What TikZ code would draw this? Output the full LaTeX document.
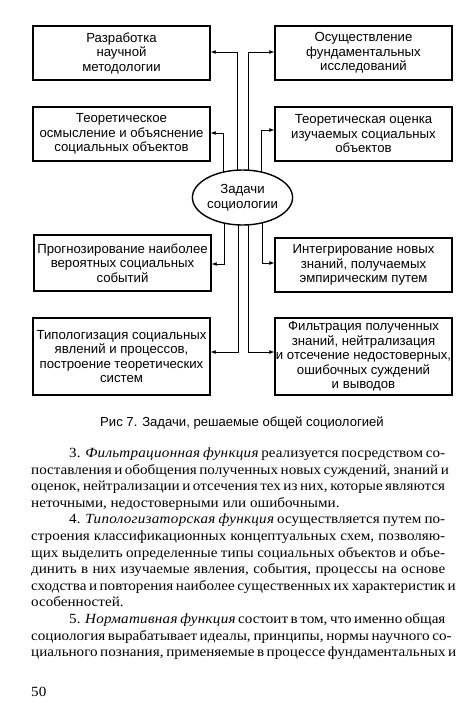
\documentclass[tikz,border=0pt]{standalone}
\usepackage{fontspec}
\setmainfont{Liberation Serif}[FakeStretch=1.08]
\newfontfamily\boxfont{Liberation Sans}
\newfontfamily\wideit{Liberation Serif}[FakeStretch=1.08,LetterSpace=2]
\usetikzlibrary{shapes.geometric,arrows.meta,backgrounds}
\tikzset{
  taskbox/.style={draw, line width=1.4pt, minimum width=177pt, align=center,
    font=\boxfont\fontsize{13.2}{14.5}\selectfont, inner sep=0pt},
  arr/.style={line width=0.7pt, -{Latex[length=5pt,width=4pt]}},
  bodyline/.style={anchor=base west, inner sep=0pt, font=\fontsize{14}{16}\selectfont},
  caption/.style={anchor=base, inner sep=0pt, font=\boxfont\fontsize{13.1}{15}\selectfont},
}
\newcommand{\itw}[1]{{\wideit\itshape #1}}
\begin{document}
\begin{tikzpicture}[x=1pt,y=-1pt]
\useasboundingbox (0,0) rectangle (471,716);
% left boxes
\node[taskbox, minimum height=54pt] (L1) at (121.5,53) {Разработка\\научной\\методологии};
\node[taskbox, minimum height=54pt] (L2) at (121.5,134) {Теоретическое\\осмысление и объяснение\\социальных объектов};
\node[taskbox, minimum height=56pt] (L3) at (122.5,263) {Прогнозирование наиболее\\вероятных социальных\\событий};
\node[taskbox, minimum height=77pt] (L4) at (121.5,356.5) {Типологизация социальных\\явлений и процессов,\\построение теоретических\\систем};
% right boxes
\node[taskbox, minimum height=54pt] (R1) at (363.5,53) {Осуществление\\фундаментальных\\исследований};
\node[taskbox, minimum height=54pt] (R2) at (363.5,134) {Теоретическая оценка\\изучаемых социальных\\объектов};
\node[taskbox, minimum height=54pt] (R3) at (363.5,265) {Интегрирование новых\\знаний, получаемых\\эмпирическим путем};
\node[taskbox, minimum height=77pt] (R4) at (363.5,356.5) {Фильтрация полученных\\знаний, нейтрализация\\и отсечение недостоверных,\\ошибочных суждений\\и выводов};
% centre
\node[ellipse, draw, line width=1.4pt, fill=white, minimum width=99pt, minimum height=55pt, inner sep=0pt,
  align=center, font=\boxfont\fontsize{13.2}{14.5}\selectfont] (E) at (242.5,197.5) {Задачи\\социологии};
\coordinate (xa) at (237,0);
\coordinate (xb) at (248,0);
\coordinate (xc) at (223,0);
\coordinate (xd) at (261,0);
\coordinate (xe) at (224,0);
\coordinate (xf) at (262,0);
\coordinate (xg) at (238,0);
\coordinate (xh) at (248,0);
\begin{scope}[on background layer]
\draw[arr] (E.center -| xa) |- ([yshift=1pt]L1.east);
\draw[arr] (E.center -| xb) |- ([yshift=1pt]R1.west);
\draw[arr] (E.center -| xc) |- ([yshift=1pt]L2.east);
\draw[arr] (E.center -| xd) |- ([yshift=4pt]R2.west);
\draw[arr] (E.center -| xe) |- ([yshift=-1pt]L3.east);
\draw[arr] (E.center -| xf) |- ([yshift=2pt]R3.west);
\draw[arr] (E.center -| xg) |- ([yshift=4.5pt]L4.east);
\draw[arr] (E.center -| xh) |- ([yshift=4.5pt]R4.west);
\end{scope}
% caption
\node[caption] (cap) at (242,426) {Рис 7. Задачи, решаемые общей социологией};
% body text
\node[bodyline] (b1) at (69,457.5) {\makebox[376pt][s]{3. \itw{Фильтрационная функция} реализуется посредством со-}};
\node[bodyline] (b2) at (31,474.1) {\makebox[414pt][s]{поставления и обобщения полученных новых суждений, знаний и}};
\node[bodyline] (b3) at (31,490.7) {\makebox[414pt][s]{оценок, нейтрализации и отсечения тех из них, которые являются}};
\node[bodyline] (b4) at (31,507.3) {неточными, недостоверными или ошибочными.};
\node[bodyline] (b5) at (69,523.9) {\makebox[376pt][s]{4. \itw{Типологизаторская функция} осуществляется путем по-}};
\node[bodyline] (b6) at (31,540.5) {\makebox[414pt][s]{строения классификационных концептуальных схем, позволяю-}};
\node[bodyline] (b7) at (31,557.1) {\makebox[414pt][s]{щих выделить определенные типы социальных объектов и объе-}};
\node[bodyline] (b8) at (31,573.7) {\makebox[414pt][s]{динить в них изучаемые явления, события, процессы на основе}};
\node[bodyline] (b9) at (31,590.3) {\makebox[414pt][s]{сходства и повторения наиболее существенных их характеристик и}};
\node[bodyline] (b10) at (31,606.9) {особенностей.};
\node[bodyline] (b11) at (69,623.5) {\makebox[376pt][s]{5. \itw{Нормативная функция} состоит в том, что именно общая}};
\node[bodyline] (b12) at (31,640.1) {\makebox[414pt][s]{социология вырабатывает идеалы, принципы, нормы научного со-}};
\node[bodyline] (b13) at (31,656.7) {\makebox[414pt][s]{циального познания, применяемые в процессе фундаментальных и}};
\node[bodyline] (pg) at (31,696) {50};
\end{tikzpicture}
\end{document}
